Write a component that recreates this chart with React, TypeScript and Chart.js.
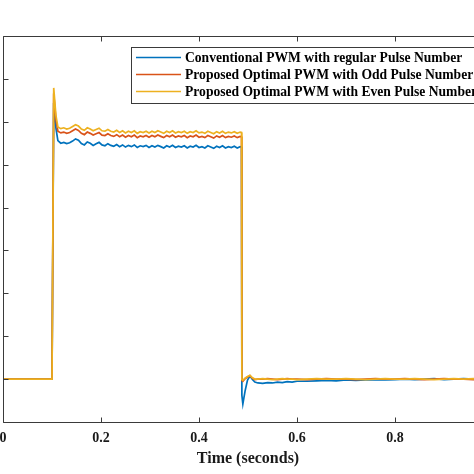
import React, { useEffect, useRef } from "react";
import { Chart, registerables } from "chart.js";

Chart.register(...registerables);

// ---- data (time in seconds) ----
const TIME_RISE = [0, 0.1, 0.1035, 0.108];
const TIME_HIGH = [
  0.112, 0.118, 0.124, 0.13, 0.136, 0.142, 0.148, 0.154, 0.16, 0.166,
  0.172, 0.178, 0.184, 0.19, 0.196, 0.202, 0.208, 0.214, 0.22, 0.226,
  0.232, 0.238, 0.244, 0.25, 0.256, 0.262, 0.268, 0.274, 0.28, 0.286,
  0.292, 0.298, 0.304, 0.31, 0.316, 0.322, 0.328, 0.334, 0.34, 0.346,
  0.352, 0.358, 0.364, 0.37, 0.376, 0.382, 0.388, 0.394, 0.4, 0.406,
  0.412, 0.418, 0.424, 0.43, 0.436, 0.442, 0.448, 0.454, 0.46, 0.466,
  0.472, 0.478, 0.484,
];
const TIME_FALL = [
  0.4868, 0.4875, 0.4895, 0.494, 0.499, 0.504, 0.509, 0.514, 0.52, 0.53,
  0.54, 0.55, 0.56, 0.57, 0.58, 0.59, 0.6, 0.62, 0.64, 0.66,
  0.68, 0.7, 0.72, 0.74, 0.76, 0.78, 0.8, 0.82, 0.84, 0.86,
  0.88, 0.9, 0.92, 0.94, 0.96, 0.98, 1.0,
];

const CONV_RISE = [1, 1, 7.44, 6.85];
const CONV_HIGH = [
  6.56, 6.5, 6.52, 6.49, 6.51, 6.55, 6.6, 6.57, 6.49, 6.46,
  6.53, 6.5, 6.45, 6.49, 6.52, 6.46, 6.44, 6.49, 6.45, 6.43,
  6.47, 6.42, 6.46, 6.41, 6.45, 6.42, 6.46, 6.4, 6.44, 6.42,
  6.45, 6.4, 6.44, 6.41, 6.45, 6.42, 6.39, 6.44, 6.41, 6.45,
  6.4, 6.43, 6.41, 6.44, 6.39, 6.43, 6.41, 6.45, 6.4, 6.42,
  6.39, 6.44, 6.41, 6.38, 6.43, 6.4, 6.44, 6.39, 6.42, 6.4,
  6.43, 6.39, 6.42,
];
const CONV_FALL = [
  6.41, 0.62, 0.42, 0.72, 0.98, 1.07, 0.99, 0.93, 0.91, 0.9,
  0.92, 0.91, 0.93, 0.92, 0.94, 0.93, 0.95, 0.95, 0.96, 0.97,
  0.96, 0.98, 0.97, 0.98, 0.99, 0.98, 0.99, 1.0, 0.99, 1.0,
  1.01, 0.99, 1.0, 1.01, 1.0, 0.99, 1.0,
];

const ODD_RISE = [1, 1, 7.66, 7.05];
const ODD_HIGH = [
  6.78, 6.74, 6.76, 6.73, 6.75, 6.79, 6.83, 6.8, 6.73, 6.7,
  6.76, 6.73, 6.69, 6.72, 6.75, 6.69, 6.68, 6.72, 6.68, 6.66,
  6.7, 6.65, 6.69, 6.64, 6.68, 6.65, 6.69, 6.63, 6.67, 6.65,
  6.68, 6.64, 6.68, 6.65, 6.69, 6.66, 6.63, 6.68, 6.65, 6.69,
  6.64, 6.67, 6.65, 6.68, 6.63, 6.67, 6.65, 6.69, 6.64, 6.66,
  6.63, 6.68, 6.65, 6.62, 6.67, 6.64, 6.68, 6.63, 6.66, 6.64,
  6.67, 6.63, 6.66,
];
const ODD_FALL = [
  6.65, 0.97, 0.95, 1.01, 1.05, 1.08, 1.02, 0.99, 1.0, 1.0,
  1.01, 1.0, 0.99, 1.0, 1.01, 1.0, 1.0, 0.99, 1.0, 1.01,
  1.0, 1.0, 0.99, 1.0, 1.01, 1.0, 1.0, 1.01, 1.0, 0.99,
  1.0, 1.01, 1.0, 1.0, 0.99, 1.0, 1.0,
];

const EVEN_RISE = [1, 1, 7.79, 7.15];
const EVEN_HIGH = [
  6.88, 6.84, 6.86, 6.83, 6.85, 6.89, 6.93, 6.9, 6.83, 6.8,
  6.86, 6.83, 6.79, 6.82, 6.85, 6.79, 6.78, 6.82, 6.78, 6.76,
  6.8, 6.75, 6.79, 6.74, 6.78, 6.75, 6.79, 6.73, 6.77, 6.75,
  6.78, 6.74, 6.78, 6.75, 6.79, 6.76, 6.73, 6.78, 6.75, 6.79,
  6.74, 6.77, 6.75, 6.78, 6.73, 6.77, 6.75, 6.79, 6.74, 6.76,
  6.73, 6.78, 6.75, 6.72, 6.77, 6.74, 6.78, 6.73, 6.76, 6.74,
  6.77, 6.73, 6.76,
];
const EVEN_FALL = [
  6.75, 0.99, 0.97, 1.02, 1.06, 1.09, 1.03, 1.0, 1.0, 1.01,
  1.0, 0.99, 1.0, 1.01, 1.0, 1.0, 0.99, 1.0, 1.01, 1.0,
  1.0, 1.01, 1.0, 0.99, 1.0, 1.01, 1.0, 1.0, 1.01, 1.0,
  0.99, 1.0, 1.01, 1.0, 1.01, 1.0, 1.0,
];

const SERIES_NAMES = [
  "Conventional PWM with regular Pulse Number",
  "Proposed Optimal PWM with Odd Pulse Number",
  "Proposed Optimal PWM with Even Pulse Number",
];
const SERIES_COLORS = ["#0072BD", "#D95319", "#EDB120"];
const X_TICKS = [0, 0.2, 0.4, 0.6, 0.8, 1];
const Y_TICKS = [0, 1, 2, 3, 4, 5, 6, 7, 8, 9];
const X_TITLE = "Time (seconds)";

const FONT = "'Liberation Serif', 'Times New Roman', serif";
const AXIS_COLOR = "#3a3a3a";

const TIME = [...TIME_RISE, ...TIME_HIGH, ...TIME_FALL];
const VALUES = [
  [...CONV_RISE, ...CONV_HIGH, ...CONV_FALL],
  [...ODD_RISE, ...ODD_HIGH, ...ODD_FALL],
  [...EVEN_RISE, ...EVEN_HIGH, ...EVEN_FALL],
];

const OFFSET_X = 60;
const CANVAS_W = 600;
const CANVAS_H = 474;

const framePlugin = {
  id: "frameAndLegend",
  afterDraw(chart: any) {
    const { ctx, chartArea: a, scales } = chart;
    const xs = scales.x;
    const ys = scales.y;
    const TL = 5;
    ctx.save();
    ctx.strokeStyle = AXIS_COLOR;
    ctx.lineWidth = 1;
    const L = Math.round(a.left) + 0.5;
    const R = Math.round(a.right) + 0.5;
    const T = Math.round(a.top) + 0.5;
    const B = Math.round(a.bottom) + 0.5;
    ctx.beginPath();
    ctx.rect(L, T, R - L, B - T);
    for (const v of X_TICKS) {
      const px = Math.round(xs.getPixelForValue(v)) + 0.5;
      ctx.moveTo(px, B);
      ctx.lineTo(px, B - TL);
      ctx.moveTo(px, T);
      ctx.lineTo(px, T + TL);
    }
    for (const v of Y_TICKS) {
      const py = Math.round(ys.getPixelForValue(v)) + 0.5;
      ctx.moveTo(L, py);
      ctx.lineTo(L + TL, py);
      ctx.moveTo(R, py);
      ctx.lineTo(R - TL, py);
    }
    ctx.stroke();

    // legend box
    const fontPx = 13.6;
    ctx.font = `bold ${fontPx}px ${FONT}`;
    const boxL = OFFSET_X + 131 + 0.5;
    const boxT = 47.5;
    const rowH = 17;
    const textX = OFFSET_X + 185;
    let maxW = 0;
    for (const n of SERIES_NAMES) maxW = Math.max(maxW, ctx.measureText(n).width);
    const boxR = textX + maxW + 6;
    const boxB = boxT + rowH * SERIES_NAMES.length + 5;
    ctx.fillStyle = "#ffffff";
    ctx.fillRect(boxL, boxT, boxR - boxL, boxB - boxT);
    ctx.strokeStyle = AXIS_COLOR;
    ctx.lineWidth = 1;
    ctx.strokeRect(boxL, boxT, boxR - boxL, boxB - boxT);
    ctx.textBaseline = "middle";
    ctx.textAlign = "left";
    SERIES_NAMES.forEach((n, i) => {
      const cy = boxT + 10 + i * rowH;
      ctx.strokeStyle = SERIES_COLORS[i];
      ctx.lineWidth = 1.5;
      ctx.beginPath();
      ctx.moveTo(OFFSET_X + 136, cy);
      ctx.lineTo(OFFSET_X + 181, cy);
      ctx.stroke();
      ctx.fillStyle = "#000000";
      ctx.fillText(n, textX, cy + 0.5);
    });
    ctx.restore();
  },
};

export default function App() {
  const ref = useRef<HTMLCanvasElement | null>(null);

  useEffect(() => {
    if (!ref.current) return;
    const datasets = SERIES_NAMES.map((name, i) => ({
      label: name,
      data: TIME.map((t, k) => ({ x: t, y: VALUES[i][k] })),
      borderColor: SERIES_COLORS[i],
      backgroundColor: SERIES_COLORS[i],
      borderWidth: 1.7,
      pointRadius: 0,
      tension: 0,
      fill: false,
      order: 2 - i,
    }));
    const chart = new Chart(ref.current, {
      type: "line",
      data: { datasets },
      plugins: [framePlugin],
      options: {
        animation: false,
        responsive: false,
        devicePixelRatio: 1,
        layout: { padding: { left: OFFSET_X + 3, right: CANVAS_W - (OFFSET_X + 493), top: 36, bottom: 0 } },
        plugins: { legend: { display: false }, tooltip: { enabled: false } },
        scales: {
          x: {
            type: "linear",
            min: 0,
            max: 1,
            afterBuildTicks: (s: any) => {
              s.ticks = X_TICKS.map((v) => ({ value: v }));
            },
            afterFit: (s: any) => {
              s.height = 52;
            },
            grid: { display: false, drawTicks: false },
            border: { display: false },
            ticks: {
              color: "#1a1a1a",
              padding: 8,
              maxRotation: 0,
              font: { family: FONT, size: 14, weight: "bold" },
            },
            title: {
              display: true,
              text: X_TITLE,
              color: "#1a1a1a",
              font: { family: FONT, size: 16, weight: "bold" },
              padding: { top: 0, bottom: 6 },
            },
          },
          y: {
            type: "linear",
            min: 0,
            max: 9,
            afterFit: (s: any) => {
              s.width = 0;
            },
            grid: { display: false, drawTicks: false },
            border: { display: false },
            ticks: { display: false, stepSize: 1 },
          },
        },
      },
    });
    return () => chart.destroy();
  }, []);

  return (
    <div
      style={{
        position: "fixed",
        left: 0,
        top: 0,
        width: 474,
        height: 474,
        overflow: "hidden",
        background: "#ffffff",
      }}
    >
      <canvas
        ref={ref}
        width={CANVAS_W}
        height={CANVAS_H}
        style={{ position: "absolute", left: -OFFSET_X, top: 0, width: CANVAS_W, height: CANVAS_H }}
      />
    </div>
  );
}
